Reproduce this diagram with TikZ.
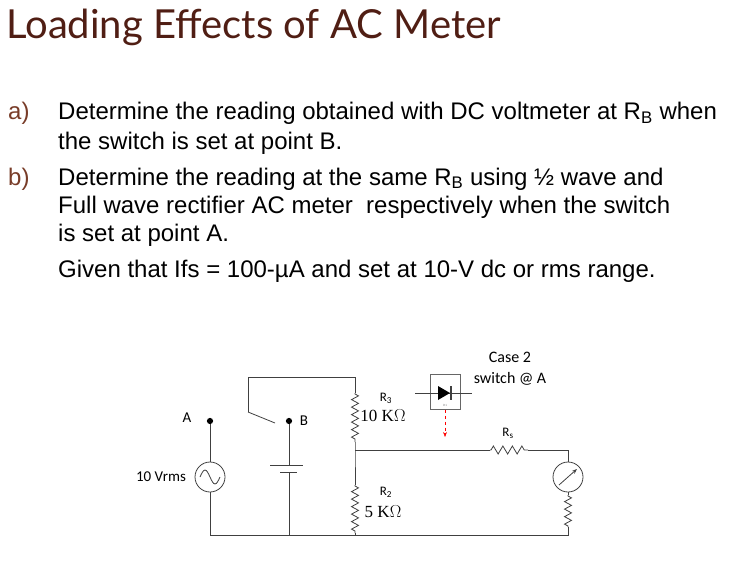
\documentclass[tikz,border=0pt]{standalone}
\usepackage{fontspec}
\setmainfont{Liberation Sans}
\newfontfamily\titlefont{Lato}
\newfontfamily\cfont{Carlito}
\newfontfamily\sfont{Liberation Serif}
\usetikzlibrary{decorations.pathmorphing,arrows.meta}
\definecolor{ttl}{RGB}{80,30,20}
\definecolor{lbl}{RGB}{120,60,40}
\tikzset{x=1pt,y=-1pt,w/.style={line width=0.8pt,draw=black!75},
 res/.style={decorate,decoration={zigzag,segment length=7.5pt,amplitude=3.5pt,pre length=1pt,post length=1pt}},
 txt/.style={anchor=base west,inner sep=0,font=\fontsize{24}{28}\selectfont},
 small/.style={font=\cfont\fontsize{15}{17}\selectfont,inner sep=0}}
\begin{document}
\begin{tikzpicture}
\useasboundingbox (0,0) rectangle (738,583);
\node[anchor=base west,inner sep=0,text=ttl,font=\titlefont\fontsize{40}{44}\selectfont] (title) at (6,39) {Loading Effects of AC Meter};
\node[txt,text=lbl] (la) at (8,120) {a)};
\node[txt] (a1) at (58,120) {Determine the reading obtained with DC voltmeter at R\textsubscript{B} when};
\node[txt] (a2) at (58,149) {the switch is set at point B.};
\node[txt,text=lbl] (lb) at (8,185) {b)};
\node[txt] (b1) at (58,185) {Determine the reading at the same R\textsubscript{B} using ½ wave and};
\node[txt] (b2) at (58,213) {Full wave rectifier AC meter\ \ respectively when the switch};
\node[txt] (b3) at (58,241) {is set at point A.};
\node[txt] (g) at (58,277) {Given that Ifs = 100-\textmu A and set at 10-V dc or rms range.};
% circuit
\coordinate (TL) at (248,377); \coordinate (TR) at (355,377);
\coordinate (SW) at (248,412);
\node[circle,fill=black,inner sep=2.2pt] (A) at (210,421) {};
\node[circle,fill=black,inner sep=2.2pt] (B) at (289,421) {};
\node[circle,draw=black!75,line width=0.8pt,minimum size=30pt,inner sep=0] (src) at (210,477) {};
\draw[w] (200,477) sin (205,470) cos (210,477) sin (215,484) cos (220,477);
\node[circle,draw=black!75,line width=0.8pt,minimum size=30pt,inner sep=0] (m) at (568,477) {};
\draw[w,-{Stealth[length=5pt]}] ([shift={(-9,8)}]m.center) -- ([shift={(9,-8)}]m.center);
\coordinate (BL) at (210,535); \coordinate (BB) at (289,535); \coordinate (BM) at (355,535); \coordinate (BR) at (568,535);
\coordinate (N) at (355,450); \coordinate (NR) at (568,450);
\draw[w] (A) -- (src.north); \draw[w] (src.south) -- (BL) -- (BR) -- (568,527);
\draw[w,res] (568,527) -- (568,495); \draw[w] (568,495) -- (m.south);
\draw[w] (SW) -- (TL) -- (TR) -- (355,393);
\draw[w,res] (355,393) -- (355,442); \draw[w] (355,442) -- (N) -- (355,485);
\draw[w,res] (355,485) -- (355,533); \draw[w] (355,533)--(BM);
\draw[w] (SW) -- (275,423);
\draw[w] (B) -- (289,465); \draw[w] (270,465) -- (303,465);
\draw[w] (280,472) -- (297,472); \draw[w] (289,472) -- (BB);
\draw[w] (N) -- (490,450); \draw[w,res,decoration={segment length=9.5pt,amplitude=4pt}] (490,450) -- (528,450);
\draw[w] (528,450) -- (NR) -- (m.north);
% diode
\node[draw=black!60,minimum width=30pt,minimum height=35pt,inner sep=0] (d) at (445,392) {};
\draw[w] (415,393) -- (472,393);
\fill (438,386) -- (438,400) -- (450,393) -- cycle;
\draw[w,line width=1.2pt] (451,386) -- (451,400);
\node[font=\fontsize{3}{4}\selectfont,text=gray] at (445,405) {D1};
\draw[red,dashed,-{Stealth[length=5pt]}] (d.south) -- (445,437);
\node[small,font=\cfont\fontsize{16}{18}\selectfont] (c2) at (510,357) {Case 2};
\node[small,font=\cfont\fontsize{16}{18}\selectfont] (c3) at (510,379) {switch @ A};
\node[small] (lA) at (187,418) {A};
\node[small] (lB) at (304,421) {B};
\node[small] (lv) at (161,477) {10 Vrms};
\node[small,font=\cfont\fontsize{13}{15}\selectfont] (lrs) at (508,433) {R\textsubscript{s}};
\node[small,font=\cfont\fontsize{13}{15}\selectfont] (lr3) at (386,398) {R\textsubscript{3}};
\node[font=\sfont\fontsize{17}{19}\selectfont,inner sep=0] (v3) at (383,416) {10 K$\Omega$};
\node[small,font=\cfont\fontsize{13}{15}\selectfont] (lr2) at (386,492) {R\textsubscript{2}};
\node[font=\sfont\fontsize{17}{19}\selectfont,inner sep=0] (v2) at (383,512) {5 K$\Omega$};
\end{tikzpicture}
\end{document}
